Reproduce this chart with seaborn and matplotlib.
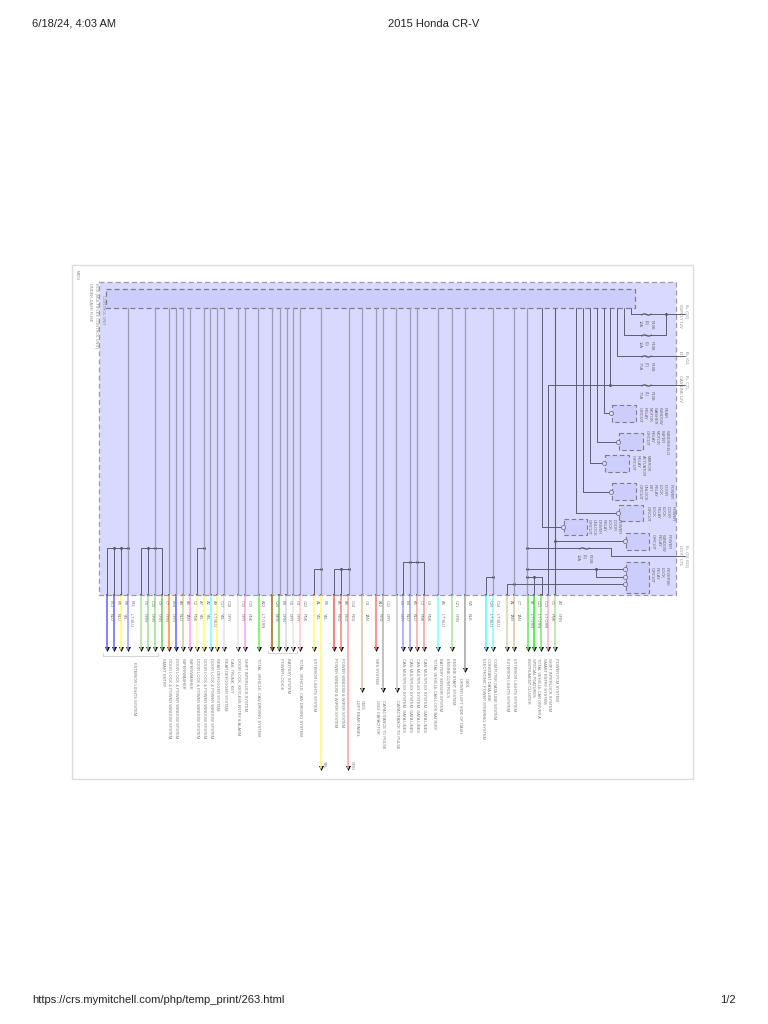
import pandas as pd
import seaborn as sns
from matplotlib import pyplot as plt
from matplotlib.patches import Rectangle

# page text
header_left = '6/18/24, 4:03 AM'
header_mid = '2015 Honda CR-V'
footer_left = 'https://crs.mymitchell.com/php/temp_print/263.html'
footer_right = '1/2'

# coloured wires leaving the control unit: x, colour, pin, wire code, bottom end
wire_x = [106.7, 113.7, 120.7, 127.7, 141.3, 148.3, 155.3, 162, 169, 176, 183, 189.7, 196.7, 203.7,
          210.7, 217.3, 224.3, 238, 244.7, 258.7, 272.3, 279.3, 286.3, 293.3, 300, 313.7, 320.7,
          334.3, 341.3, 348.3, 362, 375.7, 383, 396.7, 403.3, 410.3, 417, 424, 438, 452, 465.3,
          486.3, 493.3, 507, 514, 527.7, 534.3, 541.3, 548, 555]
wire_colour = ['#6e6eff', '#6e6eff', '#ffff70', '#a8a8f4', '#b4e4a4', '#a8e098', '#a8e098', '#78d468',
               '#ff9a40', '#6e6eff', '#d8ccaa', '#ffa8f0', '#ffff90', '#ffff70', '#88ffff', '#ffff60',
               '#e4e4e4', '#e8e8e8', '#ffa8f0', '#78f060', '#a07828', '#70d860', '#dcdcdc', '#e8e8e8',
               '#ffccd4', '#ffff70', '#ffff70', '#ff6a6a', '#ff8a8a', '#ffa8a8', '#d8ccaa', '#ff8080',
               '#b8b8b8', '#d0d0d0', '#a8a8ff', '#a8a8ff', '#ffa8b8', '#ffa0a8', '#88ffff', '#b8e4a8',
               '#a8a8a8', '#60ffff', '#88ffff', '#dcd4b4', '#d8ccaa', '#68f068', '#38f038', '#80f070',
               '#ffb8c8', '#b4e4a4']
wire_pin = ['B13', 'B5', 'B9', 'B11', 'C5', 'C10', 'C9', 'C7', 'B18', 'A4', 'A6', 'C2', 'A7', 'A2', 'A9',
            'C17', 'C18', 'C11', 'C15', 'A23', 'C20', 'B9', 'C6', 'C4', 'C22', 'A1', 'B6', 'A5', 'A8', 'C14',
            'C4', 'A12', 'C12', 'C1', 'B4', 'A3', 'C3', 'C9', 'A6', 'C21', 'W5', 'C24', 'C14', 'A1', 'C7',
            'A7', 'C23', 'C13', 'C5', 'A3']
wire_code = ['BLU', 'BLU', 'YEL', 'LT BLU', 'GRN', 'GRN', 'GRN', 'GRN', 'ORG', 'BLU', 'TAN', 'PNK', 'YEL',
             'YEL', 'LT BLU', 'YEL', 'GRY', 'GRY', 'PNK', 'LT GRN', 'BRN', 'GRN', 'GRY', 'GRY', 'PNK', 'YEL',
             'YEL', 'RED', 'RED', 'RED', 'TAN', 'RED', 'GRY', 'GRY', 'BLU', 'BLU', 'PNK', 'PNK', 'LT BLU',
             'GRN', 'BLK', 'LT BLU', 'LT BLU', 'TAN', 'TAN', 'LT GRN', 'LT GRN', 'LT GRN', 'PNK', 'GRN']
wire_end = [649, 649, 649, 649, 649, 649, 649, 649, 649, 649, 649, 649, 649, 649, 649, 649, 649, 649, 649,
            649, 649, 649, 649, 649, 649, 649, 768, 649, 649, 768, 690, 649, 690, 690, 649, 649, 649, 649,
            649, 649, 670, 649, 649, 649, 649, 649, 649, 649, 649, 649]

# grey wires between control unit and harness, each a list of x then y
trunk_x = [127.7, 155, 169, 176, 183, 190, 203.7, 210.3, 217.3, 224.3, 237.7, 244.7, 258.3, 272.3, 279.7,
           286.7, 293.3, 300, 320.7, 348.7, 361.7, 375.7, 382.7, 396.3, 410, 417, 438.3, 451.7, 465.3,
           493.3, 514, 527.3, 554.7]
branch_xs = [[106.7, 106.7, 127.7], [113.7, 113.7], [120.7, 120.7], [141.3, 141.3, 162.3, 162.3], [148.3, 148.3],
             [196.7, 196.7, 203.7], [313.7, 313.7, 320.7], [334.3, 334.3, 348.7], [341.3, 341.3],
             [403.3, 403.3, 424.3, 424.3], [486.3, 486.3, 493.3],
             [507, 507, 625], [527.3, 625], [596.3, 596.3, 625], [527.3, 541.7, 541.7], [534.3, 534.3],
             [548.3, 548.3, 685], [541.7, 541.7, 562], [527.3, 610.7, 610.7, 685], [554.7, 625],
             [575.7, 575.7, 618.5], [582.7, 582.7, 611], [589.7, 589.7, 604], [596.7, 596.7, 618.5], [603.7, 603.7, 611],
             [610, 610], [617, 617, 685], [623.7, 623.7, 665.7, 665.7], [630.7, 630.7, 685], [554.7, 554.7]]
branch_ys = [[595, 548.3, 548.3], [595, 548.3], [595, 548.3], [595, 548.3, 548.3, 595], [595, 548.3],
             [595, 548.3, 548.3], [595, 569.3, 569.3], [595, 569.3, 569.3], [595, 569.3],
             [595, 562.3, 562.3, 595], [595, 576.7, 576.7],
             [595, 583.7, 583.7], [569.3, 569.3], [569.3, 576.7, 576.7], [577.3, 577.3, 595], [595, 577.3],
             [595, 385, 385], [307.7, 526.7, 526.7], [548.3, 548.3, 556, 556], [541.3, 541.3],
             [307.7, 512.7, 512.7], [307.7, 491.7, 491.7], [307.7, 463, 463], [307.7, 442, 442], [307.7, 413.3, 413.3],
             [307.7, 385], [307.7, 356, 356], [307.7, 335, 335, 314.3], [307.7, 314.3, 314.3], [595, 307.7]]
junction_x = [113.7, 120.7, 127.7, 148.3, 155, 203.7, 320.7, 341.3, 348.7, 410, 417, 493.3, 514, 527.3,
              527.3, 527.3, 534.3, 596.3, 554.7, 610, 665.7]
junction_y = [548.3, 548.3, 548.3, 548.3, 548.3, 548.3, 569.3, 569.3, 569.3, 562.3, 562.3, 576.7, 583.7, 548.3,
              569.3, 577.3, 577.3, 569.3, 541.3, 385, 314.3]

# relays drawn inside the unit
relay_left = [612.3, 619.3, 605.3, 612.3, 619.3, 564.3, 626.3, 626.3]
relay_right = [635.7, 642.7, 628.7, 635.7, 642.7, 587.3, 649.3, 649.3]
relay_top = [405, 433.3, 455, 483.3, 505, 518.7, 533.3, 562]
relay_bottom = [421.7, 450, 471.7, 500, 521, 535.3, 550, 592.7]
relay_text_x = [652, 656.7, 640.3, 655, 660, 603.7, 660.7, 659]
relay_text_y = [406.7, 430, 455, 484, 505.7, 519, 534, 566.7]
relay_names = ['REAR\nWINDOW\nWASHER\nMOTOR\nRELAY\nCIRCUIT', 'WINDSHIELD\nWIPER\nMOTOR\nRELAY\nCIRCUIT',
               'MIRROR\nACTUATOR\nRELAY\nCIRCUIT', 'POWER\nDOOR\nLOCK\nRELAY\nEXT\nUNLOCK\nCIRCUIT',
               'POWER\nDOOR\nLOCK\nRELAY\nLOCK\nCIRCUIT', 'POWER\nDOOR\nLOCK\nRELAY\nDRIVER\nUNLOCK\nCIRCUIT',
               'POWER\nWINDOW\nRELAY\nCIRCUIT', 'REVERSE\nLOCK\nRELAY\nCIRCUIT']
pin_x = [611, 618, 604, 611, 618, 563, 625, 625, 625, 625]
pin_y = [413.3, 442, 463, 491.7, 512.7, 526.7, 541.3, 569.3, 576.7, 583.7]

# fuses
fuse_x = [645.7, 645.7, 645.7, 645.7, 583.7]
fuse_y = [314.3, 335, 356, 385, 548.3]
fuse_names = ['F10B\n(6)\n10A', 'F10B\n(5)\n10A', 'F10B\n(7)\n7.5A', 'F10B\n(1)\n7.5A', 'F10B\n(3)\n10A']

# side labels
side_x = [77, 90, 96.5, 103.3, 680, 686, 680, 686, 680, 686, 680, 686]
side_y = [270, 283, 283, 295, 304, 304, 351, 351, 375, 375, 545, 545]
side_text = ['MICU', 'UNDER-DASH FUSE', 'BOX (MULTIPLEX CONTROL UNIT)', 'CONTROL UNIT',
             'SUPPLY 12V', 'B+ (G1)', 'IG1', 'B+ IG1', 'CAN LINE 12V', 'B+ CTL', 'LIGHT CTL', 'B+ (G1 IG2)']

# destination systems below the wires
dest_x = [134, 162.5, 169, 176, 183, 190, 196.7, 203.7, 210.7, 217.3, 224.5, 231.5, 238, 245, 258.7, 281, 288,
          300, 313.7, 335, 342, 356.7, 361.7, 376, 376.5, 383, 396.7, 403.3, 410.3, 417, 424, 434, 440,
          447, 452.5, 460, 465.5, 483, 488, 493.7, 507, 514, 527.7, 533, 537.7, 544, 549, 555.7]
dest_y = [662, 658, 658, 658, 658, 658, 658, 658, 658, 658, 658, 658, 658, 658, 658, 658, 658, 658, 658, 658, 658,
          700, 700, 658, 700, 700, 700, 658, 658, 658, 658, 658, 658, 658, 658, 678, 678, 658, 658, 658, 658, 658,
          658, 658, 658, 658, 658, 658]
dest_text = ['EXTERIOR LIGHTS SYSTEM', 'SMART ENTRY', 'DOOR LOCK & POWER WINDOW SYSTEM', 'DOOR LOCK & POWER WINDOW SYSTEM',
             'WIPER/WASHER', 'WIPER/WASHER', 'DOOR LOCK & POWER WINDOW SYSTEM', 'DOOR LOCK & POWER WINDOW SYSTEM',
             'DOOR LOCK & POWER WINDOW SYSTEM', 'REAR DEFOGGER SYSTEM', 'REAR DEFOGGER SYSTEM', 'CAN, TRUNK, KEY',
             'DOOR LOCK, KEYLESS ENTRY & ALARM', 'SHIFT INTERLOCK SYSTEM', 'TOTAL, VEHICLE, CAN DRIVING SYSTEM',
             'POWER LOCK &', 'BATTERY SYSTEM', 'TOTAL, VEHICLE, CAN DRIVING SYSTEM', 'EXTERIOR LIGHTS SYSTEM',
             'POWER WINDOW & WIPER SYSTEM', 'POWER WINDOW & WIPER SYSTEM', 'LEFT REAR PANEL', 'G503', 'SRS SYSTEM',
             'G502 CAPACITOR', 'CAPACITANCE TO PULSE', 'CAPACITANCE TO PULSE', 'CAN MULTIPLEX SYSTEM, DATA LINES',
             'CAN MULTIPLEX SYSTEM, DATA LINES', 'CAN MULTIPLEX SYSTEM, DATA LINES', 'CAN MULTIPLEX SYSTEM, DATA LINES',
             'TOTAL VEHICLE CAN LOCK BATTERY', 'BATTERY SENSOR SYSTEM', 'ENGINE CONTROLS', 'ENGINE START SYSTEM',
             'DRIVER LEFT SIDE OF DASH', 'G301', 'ELECTRONIC POWER STEERING SYSTEM', 'CONSTANT DATA LINE',
             'COMPUTER DATA LINE SYSTEM', 'EXTERIOR LIGHTS SYSTEM', 'EXTERIOR LIGHTS SYSTEM', 'INSTRUMENT CLUSTER',
             'SPECIAL FEATURES', 'TOTAL VEHICLE CAN DRIVER A', 'SMART ENTRY SYSTEM', 'SHIFT INTERLOCK SYSTEM',
             'POWER PCM SYSTEM']

# bracket under grouped wires
brace_x = [[103, 103, 158, 158], [268, 268, 297, 297]]
brace_y = [[653, 656, 656, 653], [650, 653, 653, 650]]


def add_lines(ax, xs, ys, colour, width):
    rows = []
    for i, (x_list, y_list) in enumerate(zip(xs, ys)):
        for x, y in zip(x_list, y_list):
            rows.append({'line': i, 'x': x, 'y': y})
    df = pd.DataFrame(rows)
    sns.lineplot(data=df, x='x', y='y', units='line', estimator=None, sort=False, color=colour,
                 linewidth=width, legend=False, ax=ax)


def add_wires(ax):
    rows = []
    for i, x in enumerate(wire_x):
        rows.append({'wire': i, 'x': x, 'y': 596, 'colour': wire_colour[i]})
        rows.append({'wire': i, 'x': x, 'y': wire_end[i], 'colour': wire_colour[i]})
    df = pd.DataFrame(rows)
    palette = {c: c for c in wire_colour}
    sns.lineplot(data=df, x='x', y='y', units='wire', hue='colour', palette=palette, estimator=None,
                 sort=False, linewidth=1.2, legend=False, ax=ax)

    ends = pd.DataFrame({'x': wire_x, 'y': wire_end})
    sns.scatterplot(data=ends, x='x', y='y', marker='v', s=13, color='black', linewidth=0, legend=False, ax=ax)
    tops = pd.DataFrame({'x': wire_x, 'y': [595] * len(wire_x)})
    sns.scatterplot(data=tops, x='x', y='y', marker='s', s=3, color='#666677', linewidth=0, legend=False, ax=ax)

    for i, x in enumerate(wire_x):
        ax.text(x + 3.6, 600, wire_pin[i], rotation=-90, ha='center', va='top', fontsize=2.9, color='#777777')
        ax.text(x + 3.6, 613, wire_code[i], rotation=-90, ha='center', va='top', fontsize=2.9, color='#777777')


def add_relays(ax):
    for left, right, top, bottom in zip(relay_left, relay_right, relay_top, relay_bottom):
        ax.add_patch(Rectangle((left, top), right - left, bottom - top, facecolor='#cdcdfb', edgecolor='#7d7d92',
                               linewidth=0.8, linestyle=(0, (4, 2.5)), zorder=2))
    for x, y, name in zip(relay_text_x, relay_text_y, relay_names):
        ax.text(x, y, name, rotation=-90, ha='center', va='top', ma='left', fontsize=2.9, linespacing=1.35,
                color='#666666')
    pins = pd.DataFrame({'x': pin_x, 'y': pin_y})
    sns.scatterplot(data=pins, x='x', y='y', marker='o', s=9, facecolor='#d9d9ff', edgecolor='#666677',
                    linewidth=0.5, legend=False, ax=ax, zorder=3)


def add_fuses(ax):
    fuses = pd.DataFrame({'x': fuse_x, 'y': fuse_y})
    sns.scatterplot(data=fuses, x='x', y='y', marker='s', s=28, color='#d9d9ff', linewidth=0, legend=False, ax=ax,
                    zorder=3)
    sns.scatterplot(data=fuses, x='x', y='y', marker=r'$\sim$', s=55, color='#555566', linewidth=0, legend=False,
                    ax=ax, zorder=4)
    for x, y, name in zip(fuse_x, fuse_y, fuse_names):
        ax.text(x, y + 6, name, rotation=-90, ha='center', va='top', ma='left', fontsize=2.9, linespacing=1.5,
                color='#666666')


if __name__ == '__main__':
    sns.set_theme(style='white')
    plt.rcParams['font.family'] = ['Liberation Sans', 'DejaVu Sans']

    fig = plt.figure(figsize=(7.68, 10.24), dpi=100)
    ax = fig.add_axes([0, 0, 1, 1])

    ax.add_patch(Rectangle((72, 265), 621, 514, facecolor='white', edgecolor='#dcdcdc', linewidth=1))
    ax.add_patch(Rectangle((99, 281.7), 577, 313.3, facecolor='#d9d9ff', edgecolor='#9a9aaa', linewidth=0.9,
                           linestyle=(0, (4, 2.5))))
    ax.add_patch(Rectangle((106, 289), 529, 18.7, facecolor='#cdcdfb', edgecolor='#7d7d92', linewidth=0.9,
                           linestyle=(0, (4, 2.5)), zorder=2))

    add_lines(ax, [[x, x] for x in trunk_x], [[307.7, 595] for _ in trunk_x], '#9b9bb0', 0.9)
    add_lines(ax, branch_xs, branch_ys, '#5e5e70', 0.7)
    junctions = pd.DataFrame({'x': junction_x, 'y': junction_y})
    sns.scatterplot(data=junctions, x='x', y='y', marker='o', s=4, color='#333344', linewidth=0, legend=False, ax=ax)

    add_wires(ax)
    add_relays(ax)
    add_fuses(ax)
    add_lines(ax, brace_x, brace_y, '#c4c4c4', 0.5)

    for x, y, label in zip(side_x, side_y, side_text):
        ax.text(x, y, label, rotation=-90, ha='center', va='top', fontsize=2.9, color='#888888')
    for x, y, label in zip(dest_x, dest_y, dest_text):
        ax.text(x, y, label, rotation=-90, ha='center', va='top', fontsize=2.9, color='#777777')
    ax.text(324, 761, 'YEL', rotation=-90, ha='center', va='top', fontsize=2.9, color='#777777')
    ax.text(351.5, 761, 'ORG', rotation=-90, ha='center', va='top', fontsize=2.9, color='#777777')

    ax.text(32, 24, header_left, fontsize=8, color='#222222', va='center')
    ax.text(434, 24, header_mid, fontsize=8, color='#222222', va='center', ha='center')
    ax.text(32, 1000, footer_left, fontsize=8, color='#222222', va='center')
    ax.text(736, 1000, footer_right, fontsize=8, color='#222222', va='center', ha='right')

    ax.set_xlim(0, 768)
    ax.set_ylim(1024, 0)
    ax.axis('off')
    fig.savefig('out.png', dpi=100, facecolor='white')
